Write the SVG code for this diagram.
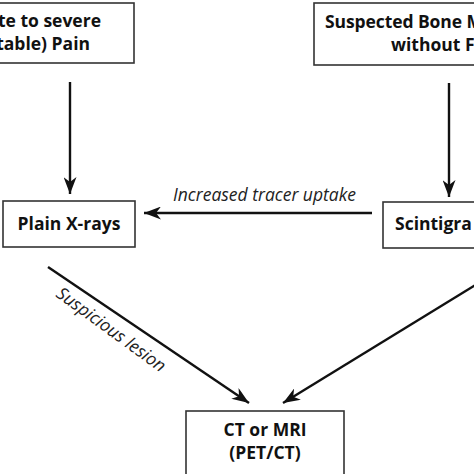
<svg xmlns="http://www.w3.org/2000/svg" width="474" height="474" viewBox="0 0 474 474">
<defs>
<style>
.box{fill:#fff;stroke:#333;stroke-width:1.6}
.lbl{font-family:"Open Sans","Noto Sans",sans-serif;font-weight:700;font-size:17.5px;fill:#111}
.edge{font-family:"Open Sans","Noto Sans",sans-serif;font-style:italic;font-size:17.5px;fill:#222}
.con{stroke:#111;stroke-width:2.4;fill:none;marker-end:url(#ah)}
</style>
<marker id="ah" markerUnits="userSpaceOnUse" markerWidth="18" markerHeight="13" refX="17" refY="6.5" orient="auto">
<path d="M0,0 L17,6.5 L0,13 L5,6.5 Z" fill="#111"/>
</marker>
</defs>
<rect width="474" height="474" fill="#fff"/>
<g id="pain">
<rect class="box" x="-40" y="3" width="174" height="60"/>
<text class="lbl" x="101" y="27" text-anchor="end">te to severe</text>
<text class="lbl" x="90" y="50" text-anchor="end">table) Pain</text>
</g>
<g id="suspected">
<rect class="box" x="314" y="3" width="200" height="62"/>
<text class="lbl" x="325" y="28" textLength="158" lengthAdjust="spacing">Suspected Bone M</text>
<text class="lbl" x="391" y="51">without F</text>
</g>
<g id="xrays">
<rect class="box" x="3" y="201" width="132" height="46"/>
<text class="lbl" x="69" y="230" text-anchor="middle">Plain X-rays</text>
</g>
<g id="scinti">
<rect class="box" x="383" y="202" width="130" height="46"/>
<text class="lbl" x="395" y="230">Scintigra</text>
</g>
<g id="ctmri">
<rect class="box" x="186" y="411" width="158" height="70"/>
<text class="lbl" x="265" y="436" text-anchor="middle">CT or MRI</text>
<text class="lbl" x="265" y="459" text-anchor="middle">(PET/CT)</text>
</g>
<g id="connectors">
<line class="con" x1="70" y1="82" x2="70" y2="194"/>
<line class="con" x1="449" y1="83" x2="449" y2="197"/>
<line class="con" x1="372" y1="213" x2="144" y2="213"/>
<line class="con" x1="48" y1="267" x2="249" y2="403"/>
<line class="con" x1="482" y1="281" x2="283" y2="403"/>
<text class="edge" x="173" y="201">Increased tracer uptake</text>
<text class="edge" transform="translate(55,296) rotate(36)" font-size="14.5">Suspicious lesion</text>
</g>
</svg>
